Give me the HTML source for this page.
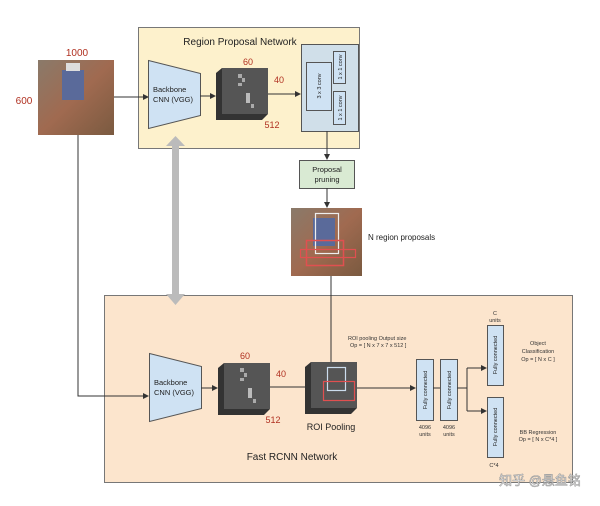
<!DOCTYPE html>
<html><head><meta charset="utf-8"><style>
body{margin:0;background:#fff;width:600px;height:501px;overflow:hidden}
text{font-family:"Liberation Sans","Noto Sans CJK SC",sans-serif}
</style></head><body>
<svg width="600" height="501" viewBox="0 0 600 501" xmlns="http://www.w3.org/2000/svg">
<defs>
<marker id="a" markerWidth="6" markerHeight="6" refX="5" refY="3" orient="auto"><path d="M0,0 L6,3 L0,6z" fill="#333"/></marker>
<linearGradient id="img" x1="0" y1="0" x2="1" y2="1"><stop offset="0" stop-color="#8a7a6a"/><stop offset="0.5" stop-color="#a06a50"/><stop offset="1" stop-color="#7a5a40"/></linearGradient>
</defs>
<!-- RPN box -->
<rect x="138.5" y="27.5" width="221" height="121" fill="#fdf1cc" stroke="#777"/>
<text x="240" y="45" font-size="10" text-anchor="middle" fill="#222">Region Proposal Network</text>
<!-- Fast RCNN box -->
<rect x="104.5" y="295.5" width="468" height="187" fill="#fce5cd" stroke="#777"/>
<text x="292" y="460" font-size="10" text-anchor="middle" fill="#222">Fast RCNN Network</text>
<!-- image 1 -->
<rect x="38" y="60" width="76" height="75" fill="url(#img)"/>
<rect x="62" y="70" width="22" height="30" fill="#5a6a9a"/>
<rect x="66" y="63" width="14" height="8" fill="#ddd"/>
<text x="77" y="56" font-size="10" text-anchor="middle" fill="#b03020">1000</text>
<text x="24" y="104" font-size="10" text-anchor="middle" fill="#b03020">600</text>
<!-- connectors -->
<line x1="114" y1="97" x2="148" y2="97" stroke="#333" marker-end="url(#a)"/>
<polyline points="78,135 78,396 148,396" fill="none" stroke="#333" marker-end="url(#a)"/>
<!-- gray double arrow -->
<rect x="172" y="145" width="7" height="150" fill="#bbb"/>
<path d="M166,146 L175.5,136 L185,146z" fill="#bbb"/>
<path d="M166,294 L175.5,305 L185,294z" fill="#bbb"/>
<!-- backbone 1 -->
<path d="M148.5,60.5 L200.5,73.5 L200.5,115.5 L148.5,128.5z" fill="#cfe2f3" stroke="#555"/>
<text x="153" y="92" font-size="7.5" fill="#222">Backbone</text>
<text x="153" y="102" font-size="7.5" fill="#222">CNN (VGG)</text>
<line x1="200" y1="96" x2="215" y2="96" stroke="#333" marker-end="url(#a)"/>
<!-- cube 1 -->
<path d="M216,73 L222,68 L268,68 L268,114 L262,120 L216,120z" fill="#333"/>
<rect x="222" y="68" width="46" height="46" fill="#555"/>
<rect x="238" y="74" width="4" height="4" fill="#aaa"/><rect x="242" y="78" width="3" height="4" fill="#aaa"/><rect x="238" y="83" width="4" height="3" fill="#aaa"/>
<rect x="246" y="93" width="4" height="10" fill="#bbb"/><rect x="251" y="104" width="3" height="4" fill="#aaa"/>
<text x="248" y="65" font-size="9" text-anchor="middle" fill="#b03020">60</text>
<text x="279" y="83" font-size="9" text-anchor="middle" fill="#b03020">40</text>
<text x="272" y="128" font-size="9" text-anchor="middle" fill="#b03020">512</text>
<line x1="268" y1="94" x2="300" y2="94" stroke="#333" marker-end="url(#a)"/>
<!-- conv panel -->
<rect x="301.5" y="44.5" width="57" height="87" fill="#d0dfe9" stroke="#555"/>
<rect x="306.5" y="62.5" width="25" height="48" fill="#cfe2f3" stroke="#555"/>
<rect x="333.5" y="51.5" width="12" height="32" fill="#cfe2f3" stroke="#555"/>
<rect x="333.5" y="91.5" width="12" height="33" fill="#cfe2f3" stroke="#555"/>
<text transform="translate(321,86) rotate(-90)" font-size="5.5" text-anchor="middle" fill="#222">3 x 3 conv</text>
<text transform="translate(342,67) rotate(-90)" font-size="5.5" text-anchor="middle" fill="#222">1 x 1 conv</text>
<text transform="translate(342,108) rotate(-90)" font-size="5.5" text-anchor="middle" fill="#222">1 x 1 conv</text>
<line x1="327" y1="131" x2="327" y2="159" stroke="#333" marker-end="url(#a)"/>
<!-- proposal pruning -->
<rect x="299.5" y="160.5" width="55" height="28" fill="#d9ead3" stroke="#555"/>
<text x="327" y="172" font-size="7.5" text-anchor="middle" fill="#222">Proposal</text>
<text x="327" y="182" font-size="7.5" text-anchor="middle" fill="#222">pruning</text>
<line x1="327" y1="188" x2="327" y2="207" stroke="#333" marker-end="url(#a)"/>
<!-- image 2 -->
<rect x="291" y="208" width="71" height="68" fill="url(#img)"/>
<rect x="313" y="218" width="22" height="28" fill="#5a6a9a"/>
<rect x="315.5" y="213.5" width="23" height="40" fill="none" stroke="#eee" stroke-width="1.2"/>
<rect x="306.5" y="240.5" width="37" height="25" fill="none" stroke="#e05050" stroke-width="1.5"/>
<rect x="300.5" y="249.5" width="55" height="8" fill="none" stroke="#e05050" stroke-width="1.2"/>
<text x="368" y="240" font-size="8" fill="#222">N region proposals</text>
<line x1="331" y1="276" x2="331" y2="367" stroke="#333" marker-end="url(#a)"/>
<!-- backbone 2 -->
<path d="M149.5,353.5 L201.5,366.5 L201.5,408.5 L149.5,421.5z" fill="#cfe2f3" stroke="#555"/>
<text x="154" y="385" font-size="7.5" fill="#222">Backbone</text>
<text x="154" y="395" font-size="7.5" fill="#222">CNN (VGG)</text>
<line x1="201" y1="388" x2="217" y2="388" stroke="#333" marker-end="url(#a)"/>
<!-- cube 2 -->
<path d="M218,368 L224,363 L270,363 L270,409 L264,415 L218,415z" fill="#333"/>
<rect x="224" y="363" width="46" height="46" fill="#555"/>
<rect x="240" y="368" width="4" height="4" fill="#aaa"/><rect x="244" y="373" width="3" height="4" fill="#aaa"/><rect x="240" y="378" width="4" height="3" fill="#aaa"/>
<rect x="248" y="388" width="4" height="10" fill="#bbb"/><rect x="253" y="399" width="3" height="4" fill="#aaa"/>
<text x="245" y="359" font-size="9" text-anchor="middle" fill="#b03020">60</text>
<text x="281" y="377" font-size="9" text-anchor="middle" fill="#b03020">40</text>
<text x="273" y="423" font-size="9" text-anchor="middle" fill="#b03020">512</text>
<line x1="270" y1="387" x2="305" y2="387" stroke="#333"/>
<!-- roi cube -->
<path d="M305,367 L311,362 L357,362 L357,408 L351,414 L305,414z" fill="#333"/>
<rect x="311" y="362" width="46" height="46" fill="#555"/>
<rect x="327.5" y="367.5" width="18" height="23" fill="none" stroke="#cde" stroke-width="1.2"/>
<rect x="323.5" y="381.5" width="31" height="19" fill="none" stroke="#e05050" stroke-width="1.2"/>
<text x="331" y="430" font-size="9" text-anchor="middle" fill="#222">ROI Pooling</text>
<text x="348" y="340" font-size="5.5" fill="#333">ROI pooling Output size</text>
<text x="350" y="347" font-size="5.5" fill="#333">Op = [ N x 7 x 7 x 512 ]</text>
<line x1="357" y1="388" x2="415" y2="388" stroke="#333" marker-end="url(#a)"/>
<!-- FC -->
<rect x="416.5" y="359.5" width="17" height="61" fill="#cfe2f3" stroke="#555"/>
<rect x="440.5" y="359.5" width="17" height="61" fill="#cfe2f3" stroke="#555"/>
<line x1="433" y1="388" x2="440" y2="388" stroke="#333"/>
<text transform="translate(427,390) rotate(-90)" font-size="5.5" text-anchor="middle" fill="#222">Fully connected</text>
<text transform="translate(451,390) rotate(-90)" font-size="5.5" text-anchor="middle" fill="#222">Fully connected</text>
<text x="425" y="429" font-size="5.5" text-anchor="middle" fill="#333">4096</text>
<text x="425" y="436" font-size="5.5" text-anchor="middle" fill="#333">units</text>
<text x="449" y="429" font-size="5.5" text-anchor="middle" fill="#333">4096</text>
<text x="449" y="436" font-size="5.5" text-anchor="middle" fill="#333">units</text>
<polyline points="457,388 467,388" fill="none" stroke="#333"/>
<polyline points="467,368 467,411" fill="none" stroke="#333"/>
<line x1="467" y1="368" x2="486" y2="368" stroke="#333" marker-end="url(#a)"/>
<line x1="467" y1="411" x2="486" y2="411" stroke="#333" marker-end="url(#a)"/>
<rect x="487.5" y="325.5" width="16" height="60" fill="#cfe2f3" stroke="#555"/>
<rect x="487.5" y="397.5" width="16" height="60" fill="#cfe2f3" stroke="#555"/>
<text transform="translate(497,355) rotate(-90)" font-size="5.5" text-anchor="middle" fill="#222">Fully connected</text>
<text transform="translate(497,427) rotate(-90)" font-size="5.5" text-anchor="middle" fill="#222">Fully connected</text>
<text x="495" y="315" font-size="5.5" text-anchor="middle" fill="#333">C</text>
<text x="495" y="322" font-size="5.5" text-anchor="middle" fill="#333">units</text>
<text x="494" y="467" font-size="5.5" text-anchor="middle" fill="#333">C*4</text>
<text x="538" y="345" font-size="5.5" text-anchor="middle" fill="#333">Object</text>
<text x="538" y="353" font-size="5.5" text-anchor="middle" fill="#333">Classification</text>
<text x="538" y="361" font-size="5.5" text-anchor="middle" fill="#333">Op = [ N x C ]</text>
<text x="538" y="434" font-size="5.5" text-anchor="middle" fill="#333">BB Regression</text>
<text x="538" y="441" font-size="5.5" text-anchor="middle" fill="#333">Op = [ N x C*4 ]</text>
<text x="540" y="485" font-size="13" text-anchor="middle" fill="#fff" stroke="#999" stroke-width="0.6">知乎 @悬鱼铭</text>
</svg>
</body></html>
